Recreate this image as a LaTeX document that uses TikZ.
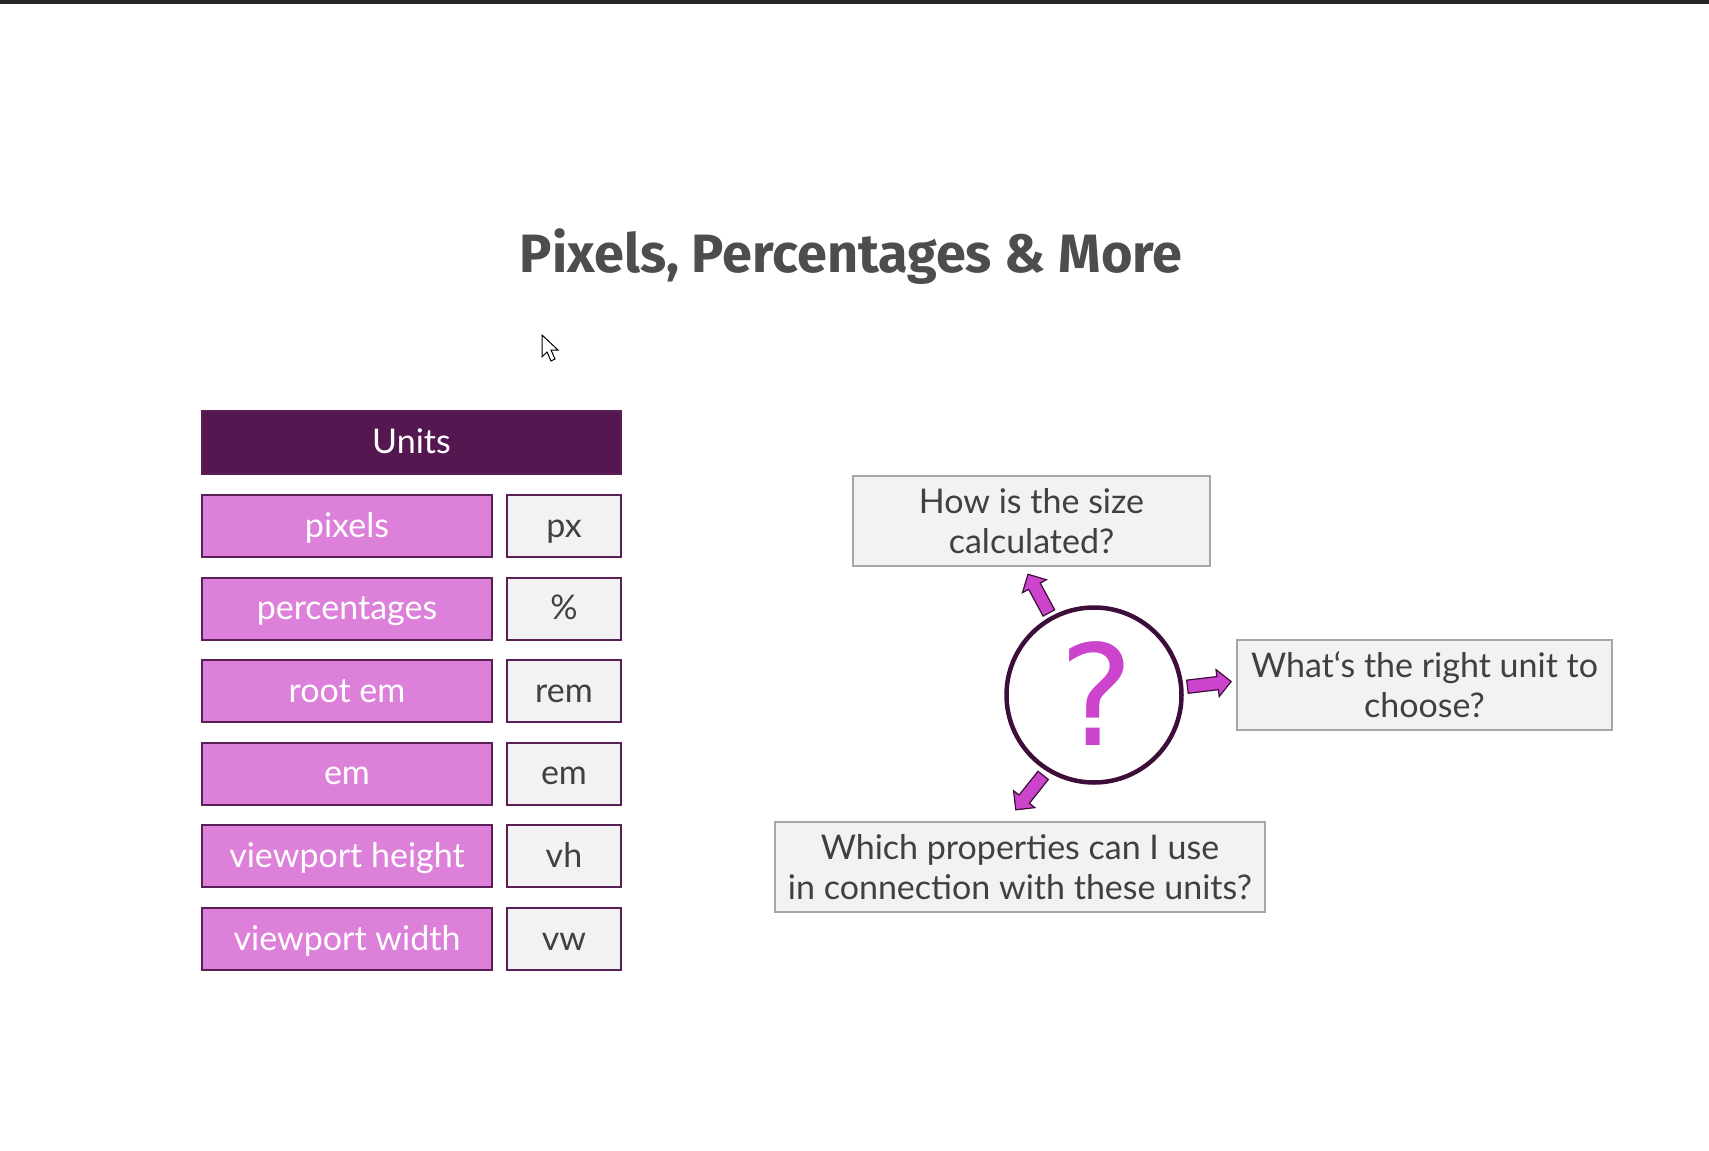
\documentclass[tikz,border=0pt]{standalone}
\usepackage{fontspec}
\setmainfont{Lato}
\newfontfamily\titlefont{Fira Sans}
\newfontfamily\qfont{DejaVu Sans}
\usetikzlibrary{shapes.arrows}
\definecolor{hdr}{HTML}{541750}
\definecolor{pinkbox}{HTML}{DD80DA}
\definecolor{edgec}{HTML}{5A1F57}
\definecolor{grayfill}{HTML}{F2F2F2}
\definecolor{grayedge}{HTML}{A6A6A6}
\definecolor{txt}{HTML}{404040}
\definecolor{qmark}{HTML}{CC44CC}
\definecolor{ring}{HTML}{3D0E3A}
\definecolor{titlec}{HTML}{4D4D4D}
\tikzset{
  bodyfont/.style={font=\fontsize{34}{40}\selectfont},
  cellfont/.style={bodyfont, text height=25, text depth=3},
  header/.style={rectangle, fill=hdr, draw=edgec, line width=1.5, text=white, cellfont,
    minimum width=419, minimum height=63, inner sep=0},
  namebox/.style={rectangle, fill=pinkbox, draw=edgec, line width=2, text=white, cellfont,
    minimum width=290, minimum height=62, inner sep=0},
  unitbox/.style={rectangle, fill=grayfill, draw=edgec, line width=2, text=txt, cellfont,
    minimum width=114, minimum height=62, inner sep=0},
  qbox/.style={rectangle, fill=grayfill, draw=grayedge, line width=2, text=txt, bodyfont,
    align=center, minimum height=90, inner sep=0},
  blockarrow/.style={single arrow, fill=qmark, draw=ring, line width=1.2,
    minimum height=44, minimum width=26, single arrow head extend=7, inner sep=6,
    single arrow tip angle=90},
}
\begin{document}
\begin{tikzpicture}[x=1pt,y=-1pt]
\useasboundingbox (0,0) rectangle (1709,1151);
\fill[white] (0,0) rectangle (1709,1151);
\fill[black!85] (0,0) rectangle (1709,4);

% title
\node[anchor=base, text=titlec, inner sep=0] (title) at (851,272)
  {\titlefont\bfseries\fontsize{54}{60}\selectfont Pixels, Percentages \& More};

% cursor
\draw[black, fill=white, line width=1, line join=miter]
  (542,335) -- (542,357) -- (547,352) -- (551,361) -- (555,359) -- (551,350) -- (558,350) -- cycle;

% units table
\node[header] (units) at (411.5,442.5) {Units};
\node[namebox] (n1) at (347,526)   {pixels};
\node[unitbox] (u1) at (564,526)   {px};
\node[namebox] (n2) at (347,608.6) {percentages};
\node[unitbox] (u2) at (564,608.6) {\%};
\node[namebox] (n3) at (347,691.2) {root em};
\node[unitbox] (u3) at (564,691.2) {rem};
\node[namebox] (n4) at (347,773.8) {em};
\node[unitbox] (u4) at (564,773.8) {em};
\node[namebox] (n5) at (347,856.4) {viewport height};
\node[unitbox] (u5) at (564,856.4) {vh};
\node[namebox] (n6) at (347,939)   {viewport width};
\node[unitbox] (u6) at (564,939)   {vw};

% questions
\node[qbox, minimum width=357] (q1) at (1031.5,521) {How is the size\\calculated?};
\node[qbox, minimum width=375] (q2) at (1424.5,685) {What‘s the right unit to\\choose?};
\node[qbox, minimum width=490] (q3) at (1020,867) {Which properties can I use\\in connection with these units?};

% circle with question mark
\node[circle, draw=ring, line width=4.5, minimum size=175, inner sep=0] (ring) at (1094,695) {};
\node[inner sep=0, text=qmark] (qm) at (1097,693.5) {\qfont\fontsize{140}{140}\selectfont ?};

% arrows
\node[blockarrow, rotate=118.4] (a1) at (1040,596.5) {};
\node[blockarrow, rotate=6.8] (a2) at (1206,684.5) {};
\node[blockarrow, rotate=-128.5] (a3) at (1031.5,790) {};
\end{tikzpicture}
\end{document}
